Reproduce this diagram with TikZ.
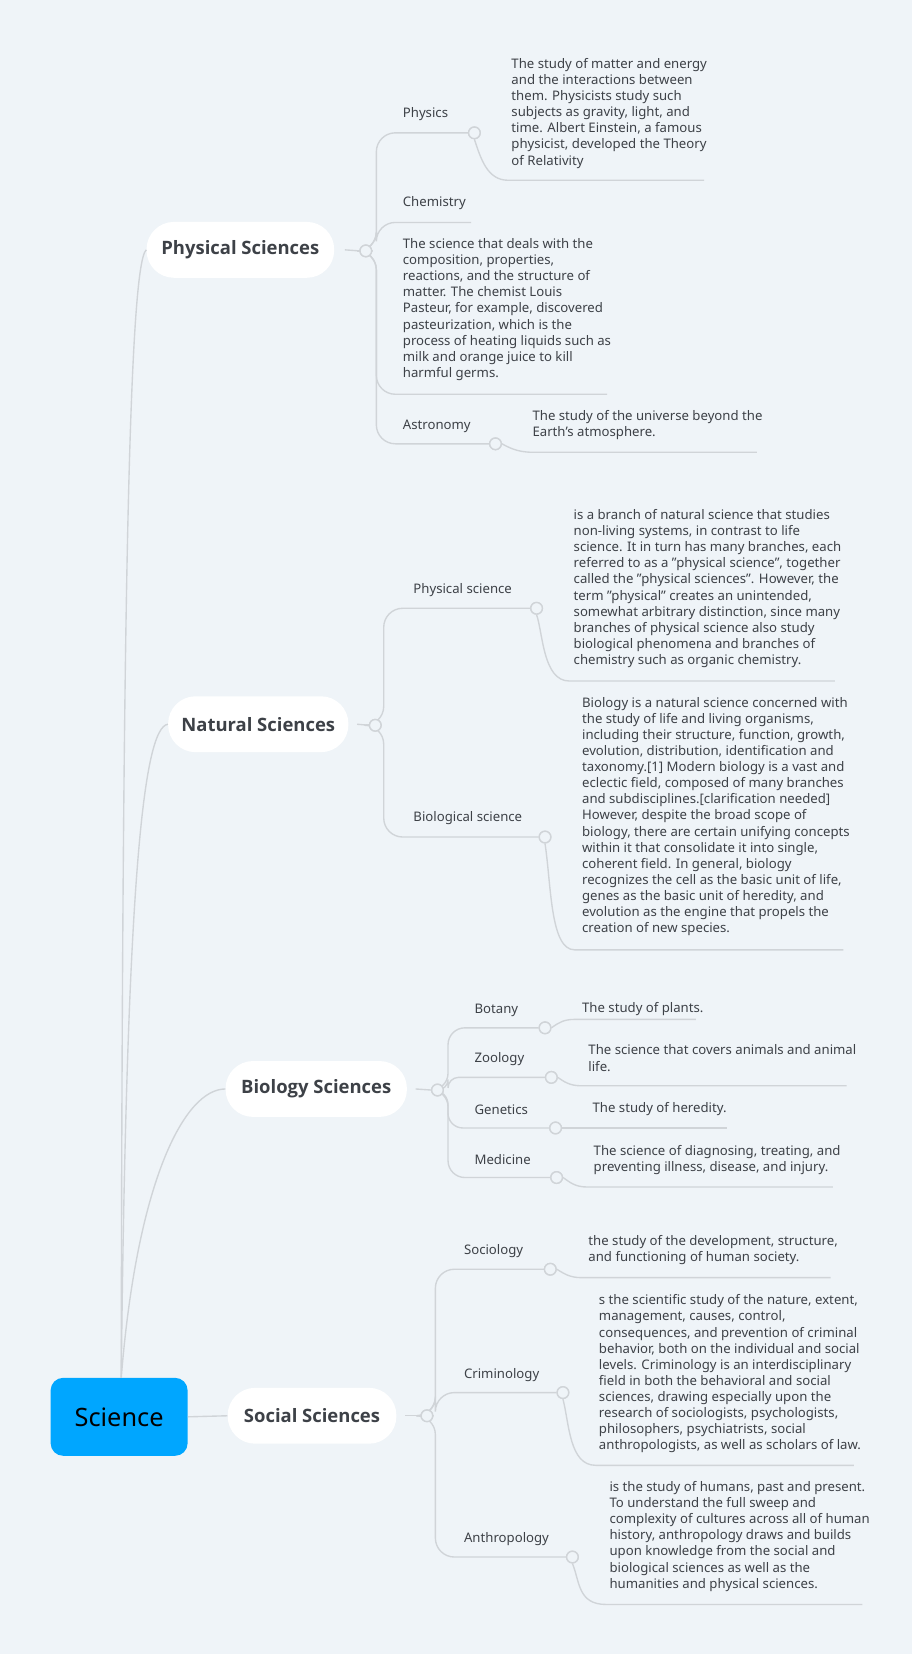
\documentclass[tikz,border=0pt]{standalone}
\usepackage{fontspec}
\setmainfont{Noto Sans}
\newfontfamily\headfont{Open Sans}
\newcommand\dq{\char"0022\relax}
\newcommand\sq{\char"0027\relax}
\definecolor{bg}{HTML}{EFF4F8}
\definecolor{ln}{HTML}{D0D4D8}
\definecolor{tx}{HTML}{3D4147}
\definecolor{blue}{HTML}{00A6FF}
\tikzset{
 link/.style={draw=ln,line width=1.3pt},
 dot/.style={circle,draw=ln,line width=1.3pt,fill=bg,minimum size=11pt,inner sep=0pt},
 mainn/.style={rounded corners=26pt,fill=white,minimum height=53pt,inner sep=0pt,text=tx,font=\headfont\fontsize{17.5}{22}\selectfont\bfseries},
 lab/.style={anchor=west,inner sep=0pt,text=tx,font=\fontsize{12.5}{15}\selectfont},
 desc/.style={anchor=north west,inner sep=0pt,align=left,text=tx,font=\fontsize{12.5}{15.3}\selectfont},
}
\begin{document}
\begin{tikzpicture}[x=1pt,y=-1pt]
\fill[bg] (0,0) rectangle (865,1569);
\useasboundingbox (0,0) rectangle (865,1569);
% root
\node[fill=blue,rounded corners=12pt,minimum width=130pt,minimum height=74pt,font=\fontsize{24}{28}\selectfont] (S) at (113,1344) {Science};
\coordinate (Stop) at (115,1307);
% main nodes
\node[mainn,minimum width=178pt] (PS) at (228,237) {Physical Sciences};
\node[mainn,minimum width=171pt] (NS) at (245,687) {Natural Sciences};
\node[mainn,minimum width=172pt] (BS) at (300,1033) {Biology Sciences};
\node[mainn,minimum width=160pt] (SS) at (296,1343) {Social Sciences};
\draw[link] (Stop) .. controls (116,600) and (122,250) .. (PS.west);
\draw[link] (Stop) .. controls (120,850) and (135,690) .. (NS.west);
\draw[link] (Stop) .. controls (130,1120) and (175,1033) .. (BS.west);
\draw[link] (S.east) -- (SS.west);
% junction dots
\node[dot] (J1) at (347,238) {};
\node[dot] (J2) at (356,688) {};
\node[dot] (J3) at (415,1034) {};
\node[dot] (J4) at (405,1343) {};
\draw[link] (PS.east)++(10,0) -- (J1.west);
\draw[link] (NS.east)++(8,0) -- (J2.west);
\draw[link] (BS.east)++(8,0) -- (J3.west);
\draw[link] (SS.east)++(8,0) -- (J4.west);
% ---------- Physical sciences
\node[dot] (P1) at (450,126) {};
\draw[link,rounded corners=18pt] (J1.east) -- (357,238) -- (357,126) -- (P1.west);
\node[lab] (Lphys) at (382,108) {Physics};
\coordinate (U1) at (668,171);
\draw[link] (P1.south) .. controls (456,150) and (462,171) .. (482,171) -- (U1);
\node[desc] (Dphys) at (485,55) {The study of matter and energy\\and the interactions between\\them. Physicists study such\\subjects as gravity, light, and\\time. Albert Einstein, a famous\\physicist, developed the Theory\\of Relativity};
\coordinate (U2) at (447,211);
\draw[link,rounded corners=18pt] (J1.east) -- (357,238) -- (357,211) -- (U2);
\node[lab] (Lchem) at (382,193) {Chemistry};
\coordinate (U3) at (576,374);
\draw[link,rounded corners=18pt] (J1.east) -- (357,238) -- (357,374) -- (U3);
\node[desc] (Dchem) at (382,226) {The science that deals with the\\composition, properties,\\reactions, and the structure of\\matter. The chemist Louis\\Pasteur, for example, discovered\\pasteurization, which is the\\process of heating liquids such as\\milk and orange juice to kill\\harmful germs.};
\node[dot] (P3) at (470,421) {};
\draw[link,rounded corners=18pt] (J1.east) -- (357,238) -- (357,421) -- (P3.west);
\node[lab] (Lastr) at (382,404) {Astronomy};
\coordinate (U4) at (718,429);
\draw[link] (P3.east) .. controls (482,424) and (490,429) .. (505,429) -- (U4);
\node[desc] (Dastr) at (505,389) {The study of the universe beyond the\\Earth\sq s atmosphere.};
% ---------- Natural sciences
\node[dot] (N1) at (509,577) {};
\draw[link,rounded corners=18pt] (J2.east) -- (364,688) -- (364,577) -- (N1.west);
\node[lab] (Lpsc) at (392,560) {Physical science};
\coordinate (U5) at (792,646);
\draw[link] (N1.south) .. controls (515,600) and (515,646) .. (540,646) -- (U5);
\node[desc] (Dpsc) at (544,483) {is a branch of natural science that studies\\non-living systems, in contrast to life\\science. It in turn has many branches, each\\referred to as a \dq physical science\dq, together\\called the \dq physical sciences\dq. However, the\\term \dq physical\dq\ creates an unintended,\\somewhat arbitrary distinction, since many\\branches of physical science also study\\biological phenomena and branches of\\chemistry such as organic chemistry.};
\node[dot] (N2) at (517,794) {};
\draw[link,rounded corners=18pt] (J2.east) -- (364,688) -- (364,794) -- (N2.west);
\node[lab] (Lbsc) at (392,776) {Biological science};
\coordinate (U6) at (800,901);
\draw[link] (N2.south) .. controls (523,840) and (522,901) .. (545,901) -- (U6);
\node[desc] (Dbsc) at (552,661) {Biology is a natural science concerned with\\the study of life and living organisms,\\including their structure, function, growth,\\evolution, distribution, identification and\\taxonomy.[1] Modern biology is a vast and\\eclectic field, composed of many branches\\and subdisciplines.[clarification needed]\\However, despite the broad scope of\\biology, there are certain unifying concepts\\within it that consolidate it into single,\\coherent field. In general, biology\\recognizes the cell as the basic unit of life,\\genes as the basic unit of heredity, and\\evolution as the engine that propels the\\creation of new species.};
% ---------- Biology sciences
\node[dot] (B1) at (517,975) {};
\draw[link,rounded corners=16pt] (J3.east) -- (425,1034) -- (425,975) -- (B1.west);
\node[lab] (Lbot) at (450,958) {Botany};
\coordinate (U7) at (660,967);
\draw[link] (B1.east) .. controls (530,970) and (535,967) .. (545,967) -- (U7);
\node[desc] (Dbot) at (552,951) {The study of plants.};
\node[dot] (B2) at (523,1022) {};
\draw[link,rounded corners=10pt] (J3.east) -- (425,1034) -- (425,1022) -- (B2.west);
\node[lab] (Lzoo) at (450,1005) {Zoology};
\coordinate (U8) at (803,1030);
\draw[link] (B2.east) .. controls (535,1026) and (540,1030) .. (552,1030) -- (U8);
\node[desc] (Dzoo) at (558,991) {The science that covers animals and animal\\life.};
\node[dot] (B3) at (527,1070) {};
\draw[link,rounded corners=14pt] (J3.east) -- (425,1034) -- (425,1070) -- (B3.west);
\node[lab] (Lgen) at (450,1053) {Genetics};
\coordinate (U9) at (690,1070);
\draw[link] (B3.east) -- (U9);
\node[desc] (Dgen) at (562,1046) {The study of heredity.};
\node[dot] (B4) at (528,1117) {};
\draw[link,rounded corners=16pt] (J3.east) -- (425,1034) -- (425,1117) -- (B4.west);
\node[lab] (Lmed) at (450,1100) {Medicine};
\coordinate (U10) at (790,1126);
\draw[link] (B4.east) .. controls (540,1121) and (545,1126) .. (557,1126) -- (U10);
\node[desc] (Dmed) at (563,1086) {The science of diagnosing, treating, and\\preventing illness, disease, and injury.};
% ---------- Social sciences
\node[dot] (C1) at (522,1204) {};
\draw[link,rounded corners=18pt] (J4.east) -- (413,1343) -- (413,1204) -- (C1.west);
\node[lab] (Lsoc) at (440,1187) {Sociology};
\coordinate (U11) at (788,1212);
\draw[link] (C1.east) .. controls (535,1208) and (540,1212) .. (552,1212) -- (U11);
\node[desc] (Dsoc) at (558,1172) {the study of the development, structure,\\and functioning of human society.};
\node[dot] (C2) at (534,1321) {};
\draw[link,rounded corners=18pt] (J4.east) -- (413,1343) -- (413,1321) -- (C2.west);
\node[lab] (Lcri) at (440,1304) {Criminology};
\coordinate (U12) at (810,1390);
\draw[link] (C2.south) .. controls (540,1350) and (540,1390) .. (565,1390) -- (U12);
\node[desc] (Dcri) at (568,1228) {s the scientific study of the nature, extent,\\management, causes, control,\\consequences, and prevention of criminal\\behavior, both on the individual and social\\levels. Criminology is an interdisciplinary\\field in both the behavioral and social\\sciences, drawing especially upon the\\research of sociologists, psychologists,\\philosophers, psychiatrists, social\\anthropologists, as well as scholars of law.};
\node[dot] (C3) at (543,1477) {};
\draw[link,rounded corners=18pt] (J4.east) -- (413,1343) -- (413,1477) -- (C3.west);
\node[lab] (Lant) at (440,1460) {Anthropology};
\coordinate (U13) at (818,1522);
\draw[link] (C3.south) .. controls (550,1500) and (548,1522) .. (575,1522) -- (U13);
\node[desc] (Dant) at (578,1405) {is the study of humans, past and present.\\To understand the full sweep and\\complexity of cultures across all of human\\history, anthropology draws and builds\\upon knowledge from the social and\\biological sciences as well as the\\humanities and physical sciences.};
% redraw dots on top
\foreach \d in {J1,J2,J3,J4,P1,P3,N1,N2,B1,B2,B3,B4,C1,C2,C3}
  \draw[draw=ln,line width=1.3pt,fill=bg] (\d) circle (5.5pt);
\end{tikzpicture}
\end{document}
